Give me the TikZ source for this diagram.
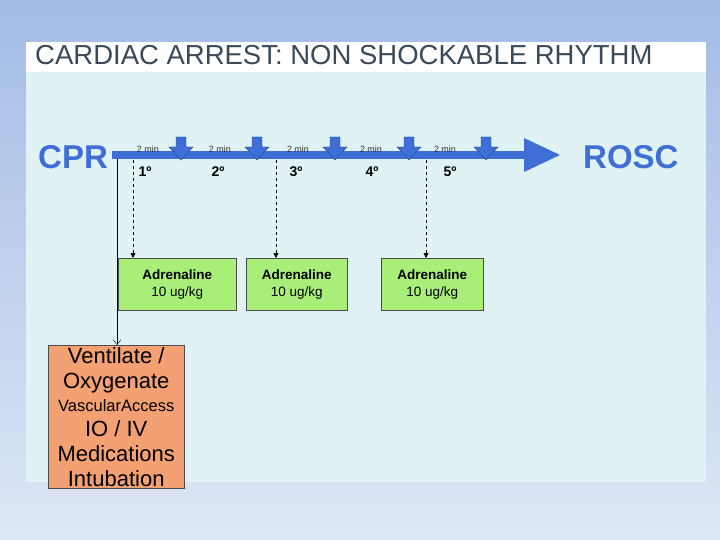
\documentclass[tikz,border=0pt]{standalone}
\usepackage{fontspec}
\setmainfont{Liberation Sans}
\usetikzlibrary{arrows.meta}
\definecolor{bgtop}{HTML}{A3BCE6}
\definecolor{bgbot}{HTML}{DDE6F5}
\definecolor{panel}{HTML}{E1F2F4}
\definecolor{tblue}{HTML}{3F6FD6}
\definecolor{titlec}{HTML}{3A4A5A}
\definecolor{gfill}{HTML}{A8EE78}
\definecolor{ofill}{HTML}{F3A172}
\begin{document}
\begin{tikzpicture}[x=1pt,y=-1pt,
  gbox/.style={draw=black!70,fill=gfill,minimum height=52pt,align=center,font=\fontsize{13.5}{17}\selectfont,anchor=north west,inner sep=2pt},
  minl/.style={font=\fontsize{9}{10}\selectfont\rmfamily,text=black!80},
  numl/.style={font=\fontsize{14}{16}\selectfont\bfseries},
  blk/.style={fill=tblue,draw=tblue!60!black,line width=0.4pt}]
\useasboundingbox (0,0) rectangle (720,540);
\shade[top color=bgtop,bottom color=bgbot] (0,0) rectangle (720,540);
\fill[panel] (26,42) rectangle (706,482);
\fill[white] (26,42) rectangle (706,72);
\node[anchor=west,text=titlec,font=\fontsize{27.5}{30}\selectfont,inner sep=0] (title) at (35,55) {CARDIAC ARREST: NON SHOCKABLE RHYTHM};
\node[anchor=west,text=tblue,font=\fontsize{33}{36}\selectfont\bfseries,inner sep=0] (cpr) at (38,157) {CPR};
\node[anchor=west,text=tblue,font=\fontsize{33}{36}\selectfont\bfseries,inner sep=0] (rosc) at (583,157) {ROSC};
\fill[tblue] (112,151) rectangle (526,159);
\fill[tblue] (524,138) -- (560,155) -- (524,172) -- cycle;
\foreach \x in {181,257,335,409,486}{
  \filldraw[blk] (\x-5,137) -- (\x+5,137) -- (\x+5,147) -- (\x+12,147) -- (\x,160) -- (\x-12,147) -- (\x-5,147) -- cycle;}
\foreach \x/\n in {148/m1,220/m2,298/m3,371/m4,445/m5}{\node[minl] (\n) at (\x,149) {2 min};}
\foreach \x/\t/\n in {145/1º/n1,218/2º/n2,296/3º/n3,372/4º/n4,450/5º/n5}{\node[numl] (\n) at (\x,172) {\t};}
\node[gbox,minimum width=118pt] (g1) at (118,258) {\textbf{Adrenaline}\\10 ug/kg};
\node[gbox,minimum width=101pt] (g2) at (246,258) {\textbf{Adrenaline}\\10 ug/kg};
\node[gbox,minimum width=102pt] (g3) at (381,258) {\textbf{Adrenaline}\\10 ug/kg};
\node[draw=black!70,fill=ofill,minimum width=136pt,minimum height=136pt,anchor=north west,align=center,inner sep=2pt,font=\fontsize{22}{25}\selectfont] (ox) at (48,345)
 {Ventilate /\\Oxygenate\\[-2pt]\fontsize{16.5}{20}\selectfont VascularAccess\\IO / IV\\Medications\\Intubation};
\coordinate (d1) at (133,160);\coordinate (d2) at (276,160);\coordinate (d3) at (426,160);
\draw[dashed,-{Triangle[length=5pt,width=5pt]},thick] (d1) -- (d1|-g1.north);
\draw[dashed,-{Triangle[length=5pt,width=5pt]},thick] (d2) -- (d2|-g2.north);
\draw[dashed,-{Triangle[length=5pt,width=5pt]},thick] (d3) -- (d3|-g3.north);
\coordinate (s0) at (117,159);
\draw[-{Straight Barb[length=5pt,width=8pt]}] (s0) -- (s0|-ox.north);
\end{tikzpicture}
\end{document}
